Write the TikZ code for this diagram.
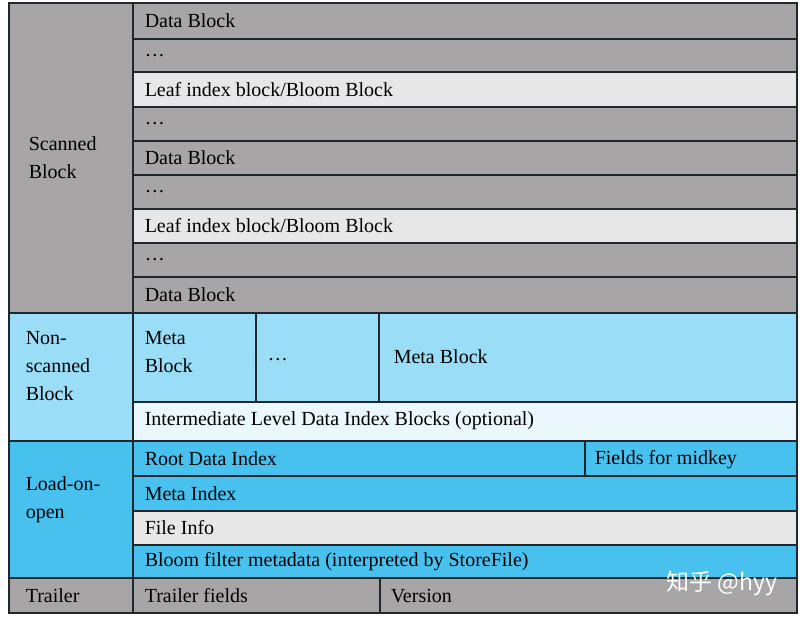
\documentclass[tikz,border=0pt]{standalone}
\usepackage{fontspec}
\setmainfont{Liberation Serif}
\newfontfamily\cjk{Noto Sans CJK SC}
\usepackage{tikz}

\definecolor{scangray}{RGB}{167,165,166}
\definecolor{leafgray}{RGB}{231,231,231}
\definecolor{metablue}{RGB}{153,221,246}
\definecolor{midblue}{RGB}{234,247,252}
\definecolor{loadblue}{RGB}{72,193,239}
\definecolor{rulecol}{RGB}{32,40,46}

\begin{document}
\begin{tikzpicture}[x=1pt, y=-1pt, line width=1.5pt,
    cell/.style={draw=rulecol},
    lbl/.style={anchor=west, inner sep=0pt, align=left,
      font=\fontsize{20}{28}\selectfont}]
    \useasboundingbox[fill=white] (0,0) rectangle (803,622);

    % Scanned block
    \draw[cell, fill=scangray] (9,3) rectangle (133,313);
    \node[lbl] (scanned) at (28,158) {Scanned\\Block};
    \foreach \ya/\yb/\col/\txt [count=\i] in {
        3/39/scangray/{Data Block},
        39/72/scangray/{\ldots},
        72/107/leafgray/{Leaf index block/Bloom Block},
        107/141/scangray/{\ldots},
        141/175/scangray/{Data Block},
        175/209/scangray/{\ldots},
        209/243/leafgray/{Leaf index block/Bloom Block},
        243/277/scangray/{\ldots},
        277/313/scangray/{Data Block}} {
      \draw[cell, fill=\col] (133,\ya) rectangle (797,\yb);
      \node[lbl] (scan\i) at (144,{(\ya+\yb)/2}) {\txt};
    }

    % Non-scanned block
    \draw[cell, fill=metablue] (9,313) rectangle (133,441);
    \node[lbl] (nonscanned) at (25,366) {Non-\\scanned\\Block};
    \draw[cell, fill=metablue] (133,313) rectangle (256,402);
    \node[lbl] (meta1) at (144,352) {Meta\\Block};
    \draw[cell, fill=metablue] (256,313) rectangle (379,402);
    \node[lbl] (metadots) at (267,360) {\ldots};
    \draw[cell, fill=metablue] (379,313) rectangle (797,402);
    \node[lbl] (meta2) at (393,357) {Meta Block};
    \draw[cell, fill=midblue] (133,402) rectangle (797,441);
    \node[lbl] (interm) at (144,421) {Intermediate Level Data Index Blocks (optional)};

    % Load-on-open
    \draw[cell, fill=loadblue] (9,441) rectangle (133,578);
    \node[lbl] (loadopen) at (25,500) {Load-on-\\open};
    \draw[cell, fill=loadblue] (133,441) rectangle (585,476);
    \node[lbl] (rootidx) at (144,459) {Root Data Index};
    \draw[cell, fill=loadblue] (585,441) rectangle (797,476);
    \node[lbl] (midkey) at (594,460) {Fields for midkey};
    \draw[cell, fill=loadblue] (133,476) rectangle (797,511);
    \node[lbl] (metaidx) at (144,494) {Meta Index};
    \draw[cell, fill=leafgray] (133,511) rectangle (797,545);
    \node[lbl] (fileinfo) at (144,528) {File Info};
    \draw[cell, fill=loadblue] (133,545) rectangle (797,578);
    \node[lbl] (bloom) at (144,562) {Bloom filter metadata (interpreted by StoreFile)};

    % Trailer
    \draw[cell, fill=scangray] (9,578) rectangle (133,613);
    \node[lbl] (trailer) at (25,596) {Trailer};
    \draw[cell, fill=scangray] (133,578) rectangle (380,613);
    \node[lbl] (tfields) at (144,596) {Trailer fields};
    \draw[cell, fill=scangray] (380,578) rectangle (797,613);
    \node[lbl] (version) at (390,596) {Version};

    % watermark
    \node[inner sep=0pt, text=white, font=\cjk\fontsize{23}{23}\selectfont] (mark) at (722,584) {知乎 @hyy};
\end{tikzpicture}
\end{document}
